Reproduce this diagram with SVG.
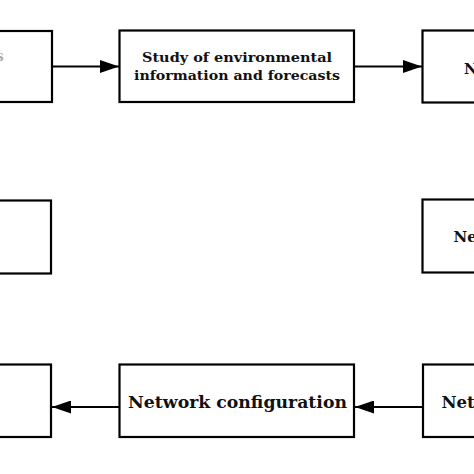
<svg xmlns="http://www.w3.org/2000/svg" width="474" height="474" viewBox="0 0 474 474">
<style>
.box{fill:#fff;stroke:#000;stroke-width:2.2}
.lbl{font-family:"DejaVu Serif","Liberation Serif",serif;font-weight:bold;fill:#111;text-anchor:middle}
.cut{font-family:"DejaVu Serif","Liberation Serif",serif;font-weight:bold;fill:#111;font-size:15px}
.con{stroke:#000;stroke-width:2.2;fill:none}
</style>
<defs>
<marker id="ah" markerWidth="19" markerHeight="13" refX="19" refY="6.5" orient="auto" markerUnits="userSpaceOnUse">
<path d="M0,0 L19,6.5 L0,13 Z" fill="#000"/>
</marker>
</defs>
<rect width="474" height="474" fill="#fff"/>
<g id="connectors">
<line class="con" x1="52" y1="66.5" x2="119" y2="66.5" marker-end="url(#ah)"/>
<line class="con" x1="354" y1="66.5" x2="422" y2="66.5" marker-end="url(#ah)"/>
<line class="con" x1="423" y1="407" x2="355" y2="407" marker-end="url(#ah)"/>
<line class="con" x1="119" y1="407" x2="52" y2="407" marker-end="url(#ah)"/>
</g>
<g id="node-top-left">
<rect class="box" x="-20" y="31" width="72" height="71"/>
<text class="cut" x="4" y="61" text-anchor="end" fill-opacity="0.35">s</text>
</g>
<g id="node-study">
<rect class="box" x="119.5" y="30.5" width="234.5" height="71.5"/>
<text class="lbl" x="237" y="62" font-size="13.5" textLength="190" lengthAdjust="spacingAndGlyphs">Study of environmental</text>
<text class="lbl" x="237" y="80" font-size="13.5" textLength="206" lengthAdjust="spacingAndGlyphs">information and forecasts</text>
</g>
<g id="node-top-right">
<rect class="box" x="422.5" y="30.5" width="80" height="72"/>
<text class="cut" x="464" y="74">N</text>
</g>
<g id="node-mid-left">
<rect class="box" x="-20" y="200.5" width="71" height="73"/>
</g>
<g id="node-mid-right">
<rect class="box" x="422.5" y="199.5" width="80" height="73"/>
<text class="cut" x="453.5" y="242">Ne</text>
</g>
<g id="node-bot-left">
<rect class="box" x="-20" y="364.5" width="71" height="72.5"/>
</g>
<g id="node-network-config">
<rect class="box" x="119.5" y="364.5" width="234.5" height="72.5"/>
<text class="lbl" x="237.5" y="408" font-size="16.5" textLength="219" lengthAdjust="spacingAndGlyphs">Network configuration</text>
</g>
<g id="node-bot-right">
<rect class="box" x="423" y="364.5" width="80" height="72.5"/>
<text class="cut" x="441.5" y="408" font-size="16.5" style="font-size:16.5px">Net</text>
</g>
</svg>
